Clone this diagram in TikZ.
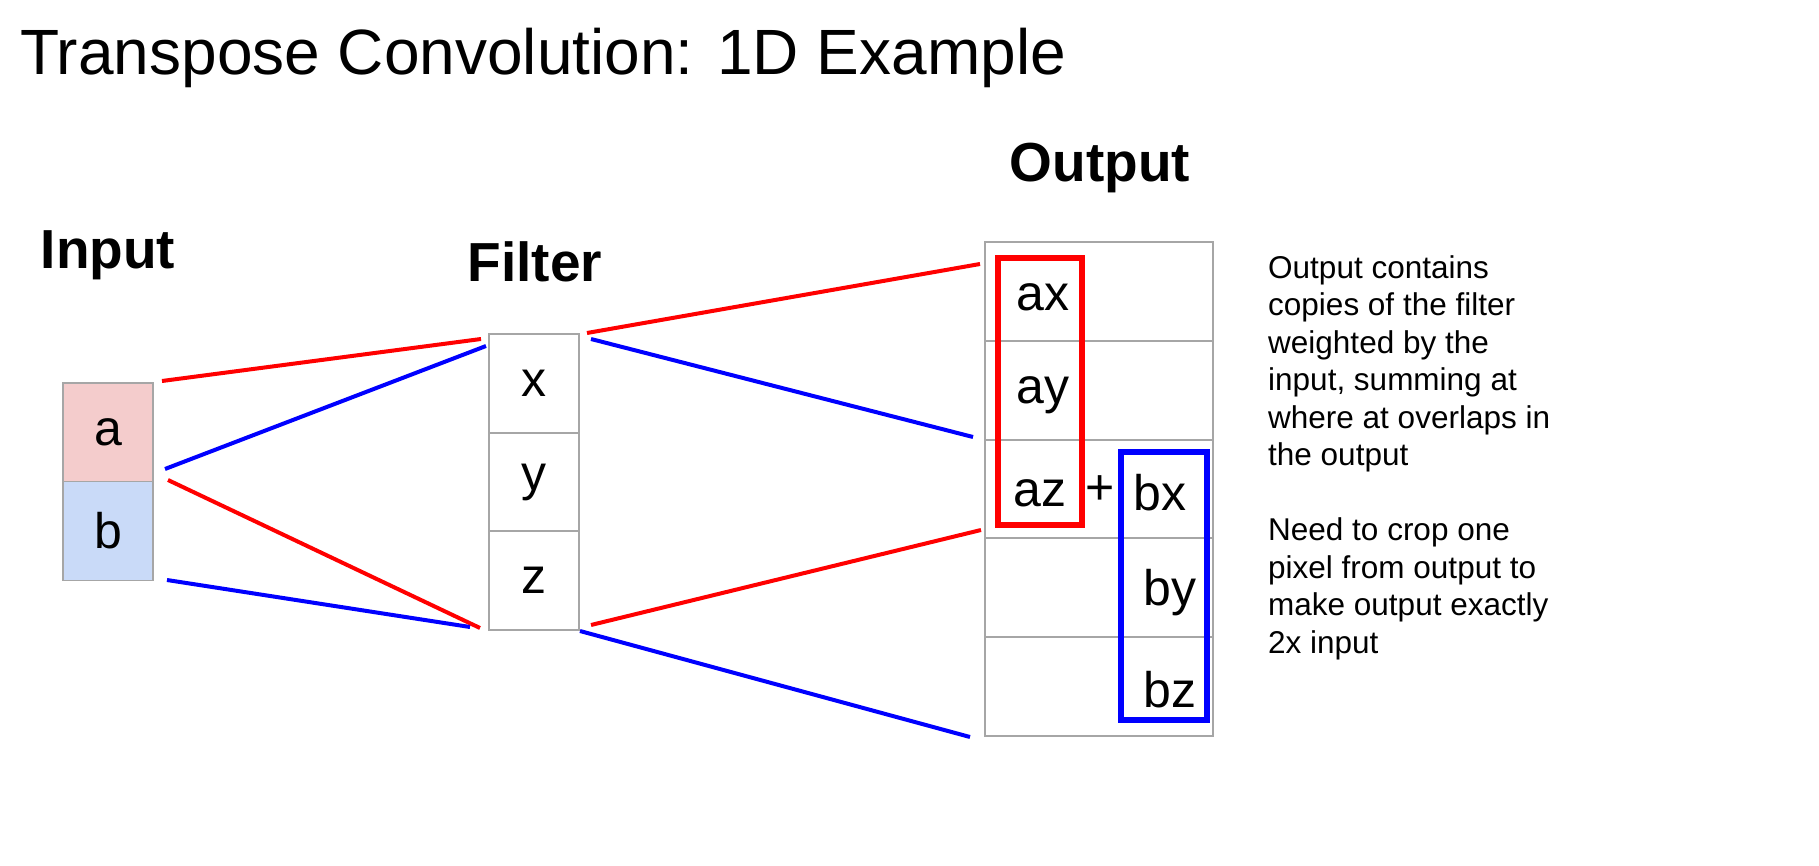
\documentclass[tikz,border=0pt]{standalone}
\usepackage{fontspec}
\setmainfont{Liberation Sans}
\begin{document}
\begin{tikzpicture}[x=1pt,y=-1pt,
  cell/.style={draw=gray!70,line width=1.2,minimum width=90,minimum height=99,inner sep=0,font=\fontsize{50}{50}\selectfont},
  ocell/.style={draw=gray!70,line width=1.2,minimum width=228,minimum height=99,inner sep=0},
  lbl/.style={font=\fontsize{55}{55}\selectfont\bfseries},
  val/.style={font=\fontsize{50}{50}\selectfont,inner sep=0},
  rl/.style={red,line width=4},
  bl/.style={blue,line width=4}]
\useasboundingbox (0,0) rectangle (1819,866);
\node[anchor=base west,font=\fontsize{64}{64}\selectfont,inner sep=0] (title) at (20,75) {Transpose Convolution: 1D Example};
\node[lbl] (inl) at (108,255) {Input};
\node[lbl] (fl) at (535,262) {Filter};
\node[lbl] (ol) at (1100,168) {Output};
\node[cell,fill={rgb,255:red,244;green,204;blue,204}] (a) at (108,432.5) {a};
\node[cell,fill={rgb,255:red,201;green,218;blue,248}] (b) at (108,531) {b};
\node[cell] (x) at (534,383.5) {x};
\node[cell] (y) at (534,482) {y};
\node[cell] (z) at (534,580.5) {z};
\foreach \i/\yy in {1/291.5,2/390.5,3/489,4/587.5,5/686.5}
  \node[ocell] (o\i) at (1099,\yy) {};
\draw[red,line width=6] (998,258) rectangle (1082,525);
\draw[blue,line width=6] (1121,452) rectangle (1207,720);
\node[val] (ax) at (1043,297) {ax};
\node[val] (ay) at (1043,395) {ay};
\node[val] (az) at (1040,493) {az};
\node[val] (plus) at (1100,490) {+};
\node[val] (bx) at (1160,493) {bx};
\node[val] (by) at (1170,593) {by};
\node[val] (bz) at (1170,690) {bz};
\coordinate (p1) at (162,381); \coordinate (p2) at (481,339);
\coordinate (p3) at (165,469); \coordinate (p4) at (486,346);
\coordinate (p5) at (168,480); \coordinate (p6) at (480,628);
\coordinate (p7) at (167,580); \coordinate (p8) at (470,627);
\coordinate (q1) at (587,333); \coordinate (q2) at (980,264);
\coordinate (q3) at (591,339); \coordinate (q4) at (973,437);
\coordinate (q5) at (591,625); \coordinate (q6) at (981,530);
\coordinate (q7) at (580,631); \coordinate (q8) at (970,737);
\draw[rl] (p1)--(p2); \draw[bl] (p3)--(p4);
\draw[rl] (p5)--(p6); \draw[bl] (p7)--(p8);
\draw[rl] (q1)--(q2); \draw[bl] (q3)--(q4);
\draw[rl] (q5)--(q6); \draw[bl] (q7)--(q8);
\node[anchor=north west,align=left,inner sep=0,font=\fontsize{31.5}{37.5}\selectfont] (note) at (1268,255)
{Output contains\\copies of the filter\\weighted by the\\input, summing at\\where at overlaps in\\the output\\[37.5pt]Need to crop one\\pixel from output to\\make output exactly\\2x input};
\end{tikzpicture}
\end{document}
